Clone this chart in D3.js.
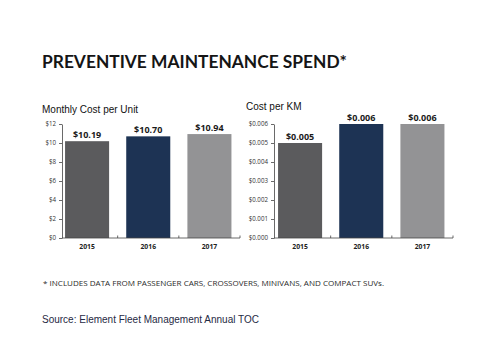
<!DOCTYPE html>
<html><head><meta charset="utf-8">
<script src="https://cdn.jsdelivr.net/npm/d3@7"></script>
<style>body{margin:0;background:#fff}svg{display:block}</style></head>
<body>
<svg id="c" width="504" height="360"></svg>
<script>
const years = ["2015", "2016", "2017"];
const monthlyCost = [10.19, 10.70, 10.94];
const costPerKm = [0.005, 0.006, 0.006];
const monthlyTicks = [0, 2, 4, 6, 8, 10, 12];
const kmTicks = [0, 0.001, 0.002, 0.003, 0.004, 0.005, 0.006];
const barColors = ["#5b5b5d", "#1d3354", "#939395"];
const titleText = "PREVENTIVE MAINTENANCE SPEND*";
const noteText = "* INCLUDES DATA FROM PASSENGER CARS, CROSSOVERS, MINIVANS, AND COMPACT SUVs.";
const sourceText = "Source: Element Fleet Management Annual TOC";

const svg = d3.select("#c");
svg.append("rect").attr("width", 504).attr("height", 360).attr("fill", "#fff");

svg.append("text").attr("x", 42).attr("y", 67.5)
  .attr("font-family", "Lato, 'Open Sans', sans-serif").attr("font-weight", 700)
  .attr("font-size", 16.5).attr("textLength", 305).attr("lengthAdjust", "spacingAndGlyphs")
  .attr("fill", "#151515").text(titleText);

function drawChart(opts) {
  const g = svg.append("g");
  const y = d3.scaleLinear().domain([0, opts.max]).range([238, 124]);
  const x = d3.scaleBand().domain(years).range([opts.x0, opts.x1]).paddingInner(0.28).paddingOuter(0.14);

  g.append("text").attr("x", opts.titleX).attr("y", opts.titleY)
    .attr("font-family", "'Liberation Sans', Arial, sans-serif").attr("font-size", 10)
    .attr("fill", "#111").text(opts.title);

  g.selectAll("rect.bar").data(opts.values).enter().append("rect")
    .attr("x", (d, i) => x(years[i])).attr("width", x.bandwidth())
    .attr("y", d => y(d)).attr("height", d => y(0) - y(d))
    .attr("fill", (d, i) => barColors[i]);

  g.selectAll("text.val").data(opts.values).enter().append("text")
    .attr("x", (d, i) => x(years[i]) + x.bandwidth() / 2).attr("y", d => y(d) - 3)
    .attr("text-anchor", "middle").attr("font-family", "'Open Sans', sans-serif")
    .attr("font-weight", 700).attr("font-size", 9).attr("fill", "#1a1a1a")
    .text(d => opts.fmt(d));

  const ya = g.append("g").attr("transform", `translate(${opts.axisX},0)`)
    .call(d3.axisLeft(y).tickValues(opts.ticks).tickFormat(opts.tickFmt).tickSize(3).tickSizeOuter(0).tickPadding(3));
  ya.selectAll("text").attr("font-family", "'Open Sans', sans-serif").attr("font-size", 6.2).attr("fill", "#333");
  ya.selectAll("line,path").attr("stroke", "#444").attr("stroke-width", 0.8);

  const xa = g.append("g").attr("transform", `translate(0,238)`)
    .call(d3.axisBottom(x).tickSize(0).tickPadding(6));
  xa.select("path").remove();
  xa.selectAll("text").attr("font-family", "'Open Sans', sans-serif").attr("font-weight", 700)
    .attr("font-size", 6.8).attr("fill", "#222");
  g.append("line").attr("x1", opts.axisX).attr("x2", opts.x1).attr("y1", 238).attr("y2", 238)
    .attr("stroke", "#444").attr("stroke-width", 0.8);
  const step = x.step();
  g.selectAll("line.sep").data(years).enter().append("line")
    .attr("x1", d => x(d) + x.bandwidth() + step * x.paddingInner() / 2)
    .attr("x2", d => x(d) + x.bandwidth() + step * x.paddingInner() / 2)
    .attr("y1", 238).attr("y2", 235.5).attr("stroke", "#444").attr("stroke-width", 0.8);
}

drawChart({ x0: 56.5, x1: 240, axisX: 62, max: 12, values: monthlyCost, ticks: monthlyTicks,
  fmt: d => "$" + d3.format(".2f")(d), tickFmt: d => "$" + d,
  title: "Monthly Cost per Unit", titleX: 42, titleY: 113 });
drawChart({ x0: 269.5, x1: 453, axisX: 274, max: 0.006, values: costPerKm, ticks: kmTicks,
  fmt: d => "$" + d3.format(".3f")(d), tickFmt: d => "$" + d3.format(".3f")(d),
  title: "Cost per KM", titleX: 246, titleY: 110 });

svg.append("text").attr("x", 43).attr("y", 286)
  .attr("font-family", "'Open Sans', sans-serif").attr("font-size", 8)
  .attr("textLength", 341).attr("lengthAdjust", "spacingAndGlyphs")
  .attr("fill", "#2a2a2a").text(noteText);

svg.append("text").attr("x", 42).attr("y", 322.5)
  .attr("font-family", "'Liberation Sans', Arial, sans-serif").attr("font-size", 10)
  .attr("fill", "#1f2a44").text(sourceText);
</script>
</body></html>
